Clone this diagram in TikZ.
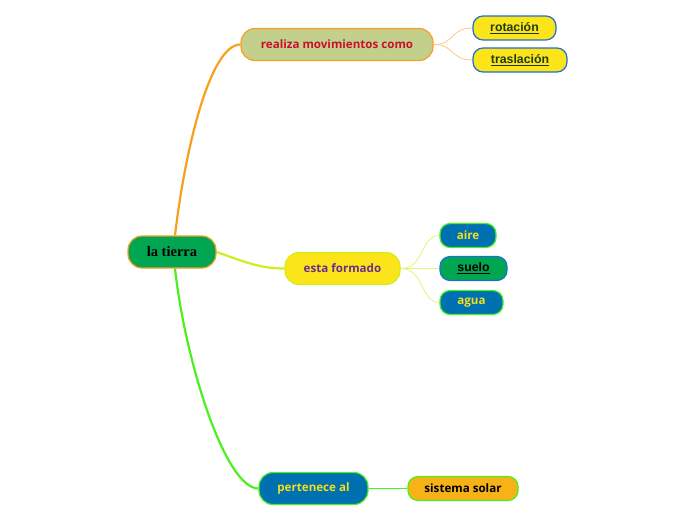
\documentclass[tikz,border=0pt]{standalone}
\usepackage{fontspec}
\setmainfont{Open Sans}
\newfontfamily\arialf{Liberation Sans}
\newfontfamily\seriff{Liberation Serif}
\usetikzlibrary{backgrounds}
\newcommand\myul[1]{\underline{#1}}
\definecolor{cOrange}{HTML}{F7A01E}
\definecolor{cLime}{HTML}{CDF01C}
\definecolor{cGreen}{HTML}{4CF01C}
\definecolor{cDGreen}{HTML}{00A651}
\definecolor{cBlue}{HTML}{0071B0}
\definecolor{cEdgeBlue}{HTML}{1F6FD0}
\definecolor{cYellow}{HTML}{FBE41A}
\definecolor{cOlive}{HTML}{C3D08B}
\definecolor{cRed}{HTML}{C8102E}
\definecolor{cPurple}{HTML}{6A2D8F}
\definecolor{cSolar}{HTML}{F7B217}
\definecolor{cTextY}{HTML}{F5E01A}
\definecolor{cLightOr}{HTML}{FBC887}
\definecolor{cLightLime}{HTML}{E6F27A}
\definecolor{cDarkTxt}{HTML}{1F3A1A}
\begin{document}
\begin{tikzpicture}[x=1pt,y=-1pt,
  box/.style={draw, line width=1.2pt, rounded corners=11pt, inner sep=0pt, font=\bfseries\fontsize{11.6}{13}\selectfont},
  mainbox/.style={box, minimum height=32pt, rounded corners=14pt},
  subbox/.style={box, minimum height=24pt, rounded corners=10pt},
  ultext/.style={font=\arialf\bfseries\fontsize{12.3}{14}\selectfont},
  thick branch/.style={line width=2.2pt},
  thin branch/.style={line width=0.8pt}]
\useasboundingbox (0,0) rectangle (696,520);
% nodes
\node[mainbox, fill=cDGreen, draw=cOrange, minimum width=88pt, font=\seriff\bfseries\fontsize{14.5}{16}\selectfont] (tierra) at (172,252) {la tierra};
\node[mainbox, fill=cOlive, draw=cOrange, minimum width=192pt, text=cRed] (realiza) at (337,44.5) {realiza movimientos como};
\node[subbox, fill=cYellow, draw=cEdgeBlue, minimum width=83pt, text=cDarkTxt, ultext] (rot) at (514.5,28) {\myul{rotación}};
\node[subbox, fill=cYellow, draw=cEdgeBlue, minimum width=94pt, text=cDarkTxt, ultext] (tras) at (520,60) {\myul{traslación}};
\node[mainbox, fill=cYellow, draw=cLime, minimum width=115pt, text=cPurple] (esta) at (342.5,268.5) {esta formado};
\node[subbox, fill=cBlue, draw=cGreen, minimum width=56pt, text=cTextY] (aire) at (468,235.5) {aire};
\node[subbox, fill=cDGreen, draw=cEdgeBlue, minimum width=67pt, text=black, ultext] (suelo) at (473.5,268.5) {\myul{suelo}};
\node[subbox, fill=cBlue, draw=cGreen, minimum width=63pt, text=cTextY] (agua) at (471.5,302.5) {agua};
\node[mainbox, fill=cBlue, draw=cGreen, minimum width=109pt, text=cTextY] (pert) at (313.5,488.5) {pertenece al};
\node[subbox, fill=cSolar, draw=cGreen, minimum width=110pt, text=black] (solar) at (463,488.5) {sistema solar};
% connectors
\begin{scope}[on background layer]
\draw[thick branch, cOrange] ([xshift=3pt]tierra.north) .. controls (185,150) and (210,44.5) .. (realiza.west);
\draw[thick branch, cLime] (tierra.east) .. controls (245,262) and (260,268.5) .. (esta.west);
\draw[thick branch, cGreen] ([xshift=3pt]tierra.south) .. controls (185,360) and (225,488.5) .. (pert.west);
\draw[thin branch, cLightOr] (realiza.east) .. controls (455,44.5) and (450,28) .. (rot.west);
\draw[thin branch, cLightOr] (realiza.east) .. controls (455,44.5) and (450,60) .. (tras.west);
\draw[thin branch, cLightLime] (esta.east) .. controls (425,268.5) and (420,235.5) .. (aire.west);
\draw[thin branch, cLightLime] (esta.east) -- (suelo.west);
\draw[thin branch, cLightLime] (esta.east) .. controls (425,268.5) and (420,302.5) .. (agua.west);
\draw[thin branch, cGreen] (pert.east) -- (solar.west);
\end{scope}
\end{tikzpicture}
\end{document}
